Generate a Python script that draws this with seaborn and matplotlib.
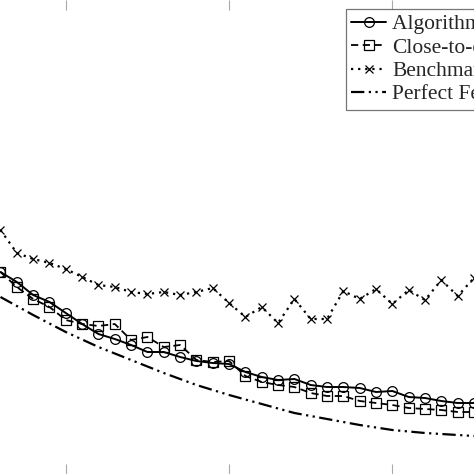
import matplotlib
matplotlib.use("Agg")
import matplotlib.pyplot as plt
import seaborn as sns

sns.set_style("white")
plt.rcParams['font.family'] = ['Liberation Serif', 'DejaVu Serif']

idx = list(range(30))
alg = [20.2,19.2,17.9,17.2,16.1,15.0,14.0,13.5,12.9,12.2,12.2,11.7,11.3,11.1,11.0,10.2,9.7,9.4,9.5,8.9,8.7,8.7,8.6,8.2,8.3,7.7,7.6,7.3,7.1,7.1]
close = [20.2,18.7,17.5,16.7,15.4,15.0,14.8,15.0,13.4,13.7,12.7,12.9,11.4,11.2,11.3,9.8,9.2,8.9,8.7,8.1,7.8,7.8,7.3,7.1,6.9,6.6,6.5,6.4,6.2,6.2]
bench = [24.4,22.1,21.5,21.1,20.5,19.7,18.9,18.7,18.2,18.0,18.2,17.9,18.2,18.6,17.1,15.7,16.7,15.1,17.5,15.5,15.5,18.3,17.5,18.5,17.0,18.4,17.4,19.4,17.8,19.6]
perf_x = [0,2,4,6,8,10,12,14,16,18,20,22,24,26,29]
perf = [17.7,15.9,14.2,12.7,11.4,10.1,8.9,7.9,7.0,6.1,5.5,4.9,4.4,4.1,3.8]
labels = ["Algorithm 1", "Close-to-optimal", "Benchmark", "Perfect Feedback"]

fig = plt.figure(figsize=(4.74, 4.74), dpi=100)
ax = fig.add_axes([0, 0, 1, 1])
styles = [
    (idx, alg, 'o', '-', 1.4, 7),
    (idx, close, 's', (0, (4, 2.5)), 1.3, 7),
    (idx, bench, 'x', (0, (1, 2.2)), 1.6, 6),
    (perf_x, perf, None, (0, (6, 2, 1, 2, 1, 2)), 1.6, 0),
]
for (xs, ys, m, ls, lw, ms), lab in zip(styles, labels):
    sns.lineplot(x=xs, y=ys, ax=ax, color='black', label=lab)
    ln = ax.lines[-1]
    ln.set_linestyle(ls)
    ln.set_linewidth(lw)
    if m:
        ln.set_marker(m)
        ln.set_markersize(ms)
        ln.set_markerfacecolor('none')
        ln.set_markeredgecolor('black')
        ln.set_markeredgewidth(0.9)

ax.set_xlim(-0.03, 29.0)
ax.set_ylim(0, 47.4)
ax.set_xticks([4, 14, 24])
ax.set_yticks([])
ax.set_xticklabels([])
ax.tick_params(axis='x', direction='in', length=7, color='#aaaaaa', top=True, bottom=True, width=0.8)
for s in ax.spines.values():
    s.set_visible(False)

leg = ax.legend(loc='upper left', bbox_to_anchor=(346/474, 1 - 9/474), fontsize=15.5,
                handlelength=1.6, handletextpad=0.3, borderpad=0.25, labelspacing=0.15,
                frameon=True, fancybox=False, edgecolor='#555555', borderaxespad=0)
leg.get_frame().set_linewidth(0.9)
fig.savefig("out.png", dpi=100)
